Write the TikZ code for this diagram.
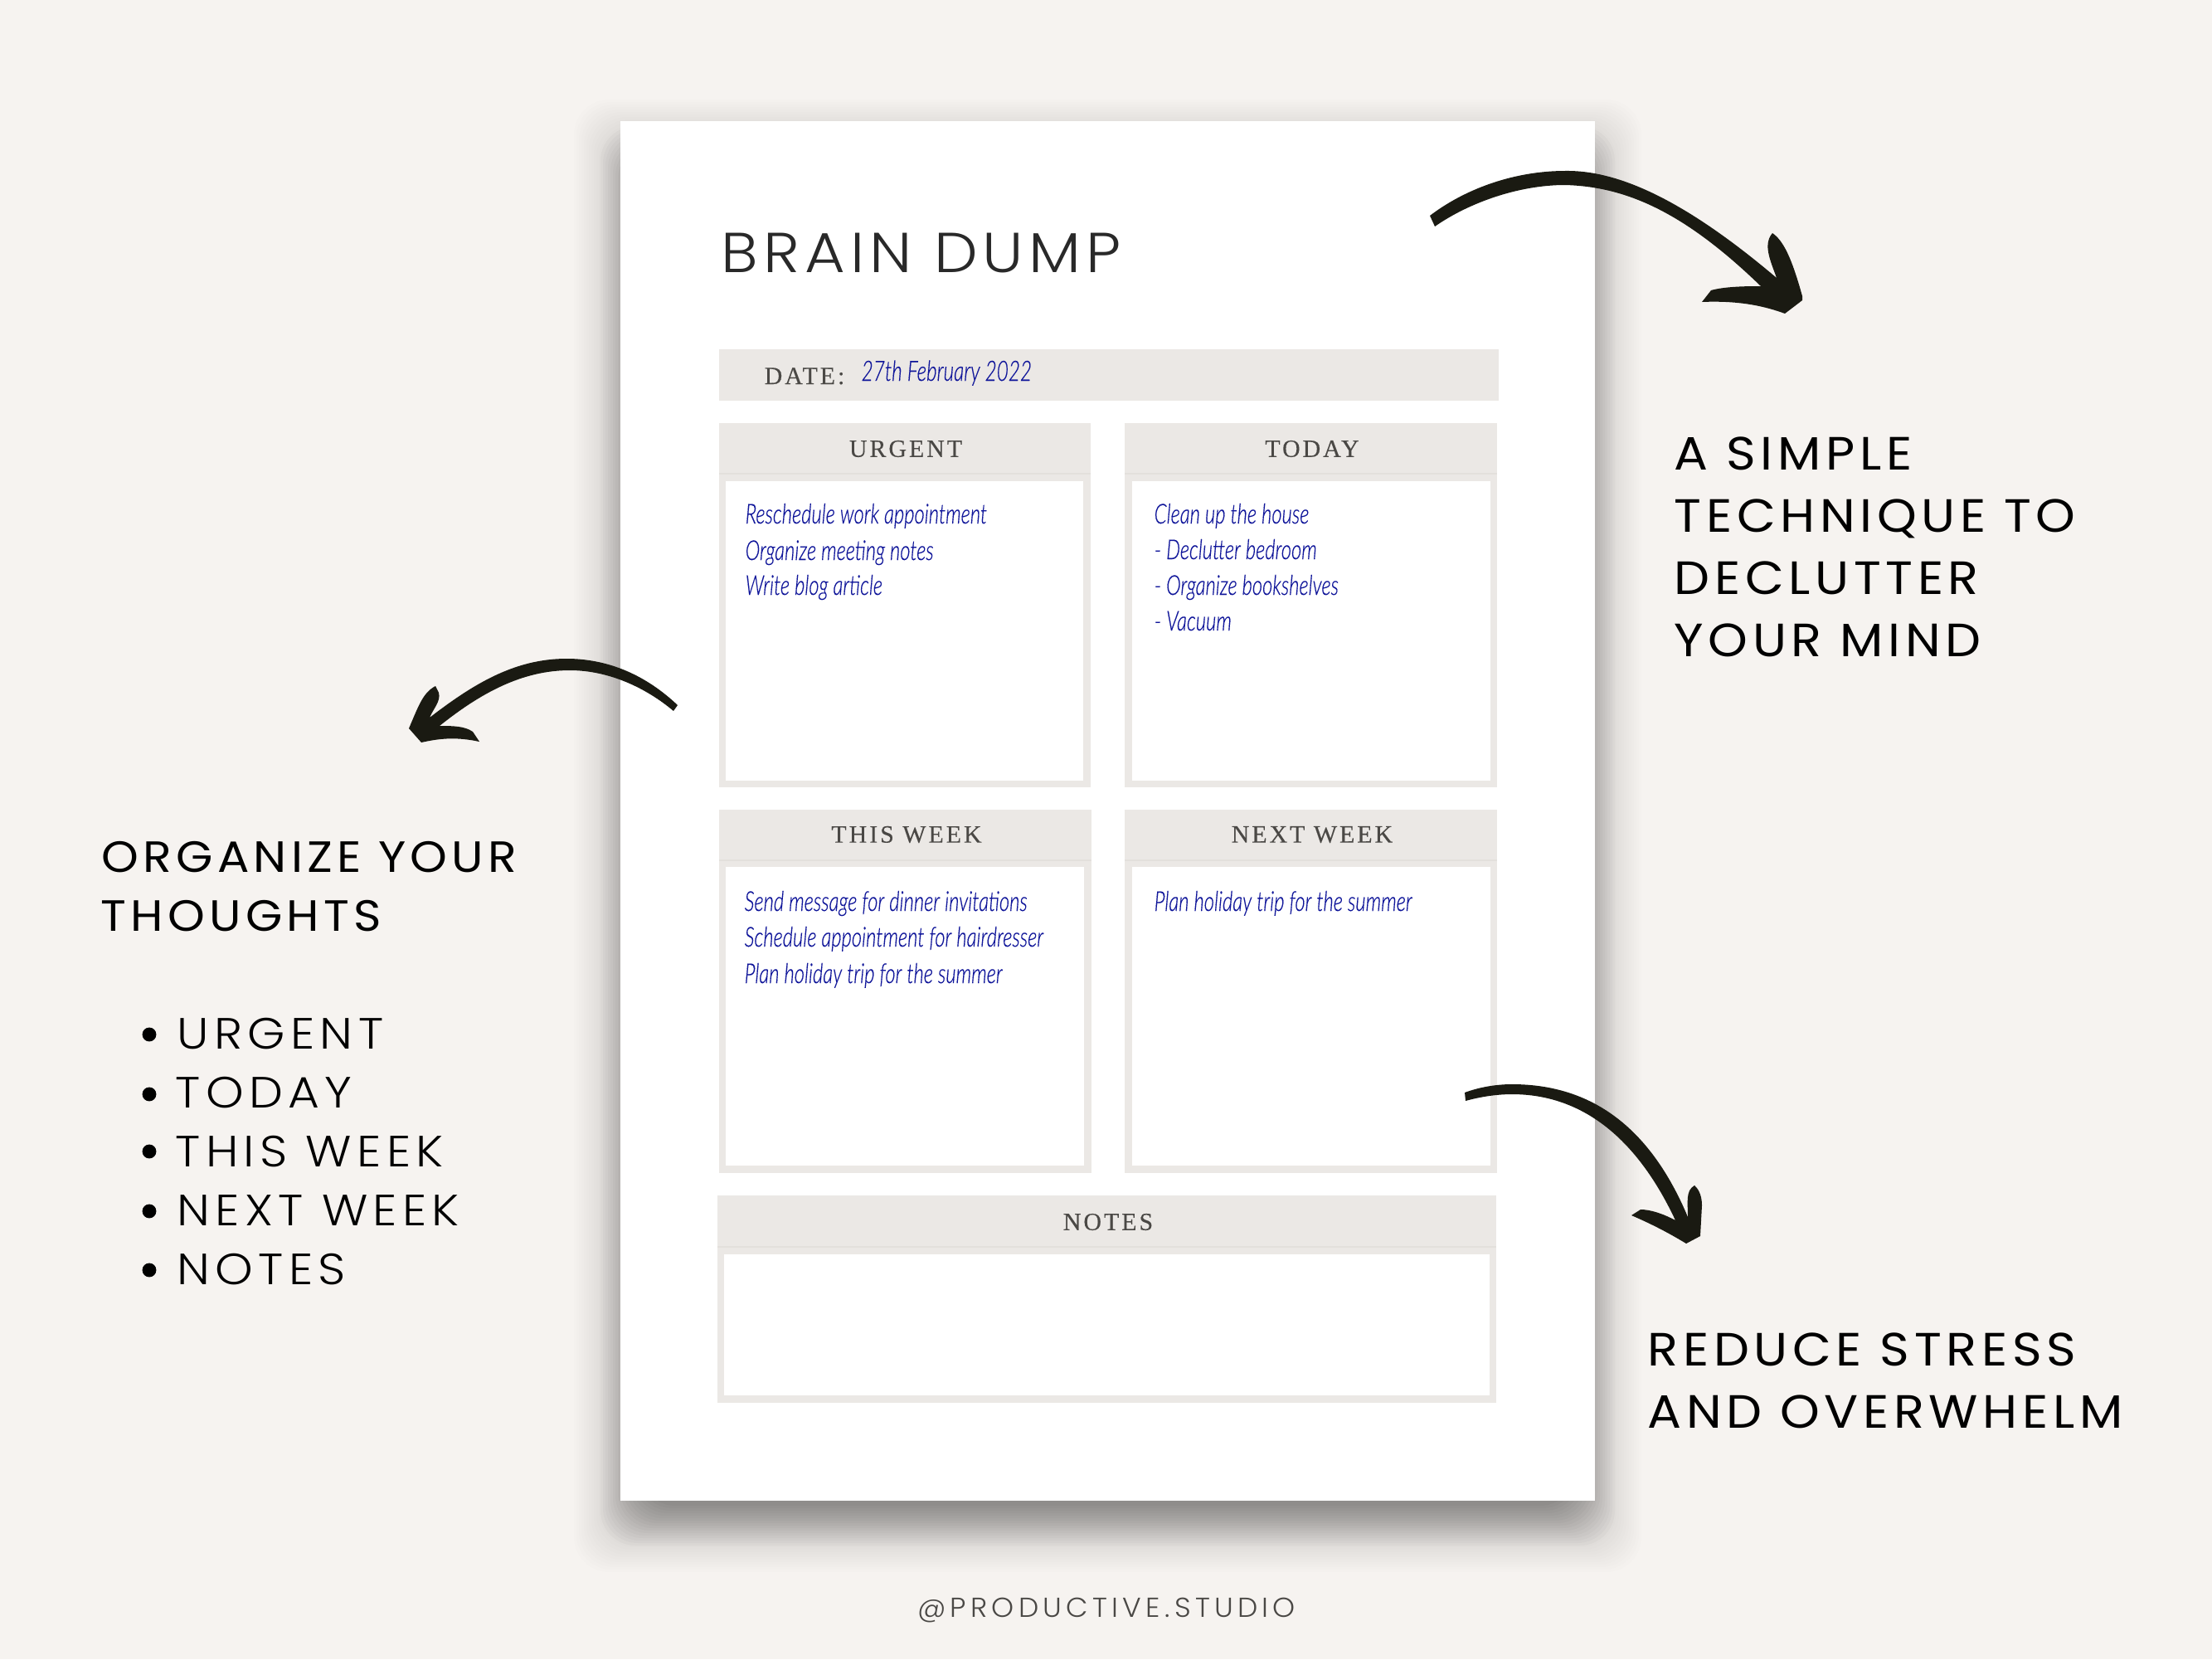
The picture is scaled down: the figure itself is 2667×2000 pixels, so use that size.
\documentclass[tikz,border=0pt]{standalone}
\usepackage{fontspec}
\setmainfont{Liberation Serif}
\newfontfamily\titlefont[FakeStretch=1.1,LetterSpace=9]{Poppins Light}
\newfontfamily\blurbfont[FakeStretch=1.08,LetterSpace=10]{Poppins}
\newfontfamily\itemfont[FakeStretch=1.1,LetterSpace=12]{Poppins Light}
\newfontfamily\footfont[FakeStretch=1.04,LetterSpace=16]{Poppins Light}
\newfontfamily\headfont[LetterSpace=10,FakeBold=0.25]{Liberation Serif}
\newfontfamily\handfont[FakeStretch=0.72,FakeBold=0.3]{Lato Light}
\definecolor{sheetbg}{HTML}{F6F3F0}
\definecolor{panelgray}{HTML}{EBE8E5}
\definecolor{panelline}{HTML}{E3E0DC}
\definecolor{penblue}{HTML}{10169A}
\definecolor{headgray}{HTML}{4A4845}
\definecolor{inkblack}{HTML}{1A1A12}
\tikzset{
  panel/.style={fill=panelgray},
  hline/.style={panelline, line width=0.3pt},
  headtext/.style={inner sep=0pt, text=headgray, font=\headfont\fontsize{8.5}{10}\selectfont},
  handtext/.style={inner sep=0pt, anchor=base west, text=penblue, font=\handfont\itshape\fontsize{9.4}{11}\selectfont},
  blurb/.style={inner sep=0pt, anchor=base west, text=black, font=\blurbfont\fontsize{15}{18}\selectfont},
  bigblurb/.style={blurb, font=\blurbfont\fontsize{16}{18}\selectfont},
  listitem/.style={inner sep=0pt, anchor=base west, text=black, font=\itemfont\fontsize{15}{18}\selectfont},
  bulletdot/.style={circle, fill=black, inner sep=0pt, minimum size=4.8pt},
}
\begin{document}
\begin{tikzpicture}[x=0.01cm, y=-0.01cm]
  \useasboundingbox (0,0) rectangle (2667,2000);
  \fill[sheetbg] (0,0) rectangle (2667,2000);
  % soft shadow, built from stacked rectangles
  \foreach \d in {56,53,...,26}
    \fill[black, opacity=0.008, rounded corners=12pt] (748-\d,176-\d) rectangle (1923+\d,1839+\d);
  \foreach \d in {24,21,...,-24}
    \fill[black, opacity=0.022, rounded corners=12pt] (748-\d,176-\d) rectangle (1923+\d,1839+\d);
  \fill[white] (748,146) rectangle (1923,1809);
  \node[inner sep=0pt, anchor=base west, text=black!84, font=\titlefont\fontsize{19.3}{22}\selectfont] (title) at (869,328) {BRAIN DUMP};

  % date bar
  \fill[panel] (867,421) rectangle (1807,483);
  \node[headtext, anchor=base west] (datelabel) at (921,463) {DATE:};
  \node[handtext, font=\handfont\itshape\fontsize{9.6}{11}\selectfont] (datevalue) at (1038,459) {27th February 2022};

  % urgent
  \fill[panel] (867,510) rectangle (1315,949);
  \fill[white] (875,580) rectangle (1306,941);
  \draw[hline] (867,571) -- (1315,571);
  \node[headtext] (urgent) at (1092,541) {URGENT};
  \node[handtext] (urgent1) at (898,631) {Reschedule work appointment};
  \node[handtext] (urgent2) at (898,675) {Organize meeting notes};
  \node[handtext] (urgent3) at (898,717) {Write blog article};

  % today
  \fill[panel] (1356,510) rectangle (1805,949);
  \fill[white] (1365,580) rectangle (1797,941);
  \draw[hline] (1356,571) -- (1805,571);
  \node[headtext] (today) at (1582,541) {TODAY};
  \node[handtext] (today1) at (1391,631) {Clean up the house};
  \node[handtext] (today2) at (1391,674) {- Declutter bedroom};
  \node[handtext] (today3) at (1391,717) {- Organize bookshelves};
  \node[handtext] (today4) at (1391,760) {- Vacuum};

  % this week
  \fill[panel] (867,976) rectangle (1316,1414);
  \fill[white] (875,1045) rectangle (1307,1405);
  \draw[hline] (867,1037) -- (1316,1037);
  \node[headtext] (thisweek) at (1093,1006) {THIS WEEK};
  \node[handtext] (thisweek1) at (897,1098) {Send message for dinner invitations};
  \node[handtext] (thisweek2) at (897,1141) {Schedule appointment for hairdresser};
  \node[handtext] (thisweek3) at (897,1185) {Plan holiday trip for the summer};

  % next week
  \fill[panel] (1356,976) rectangle (1805,1414);
  \fill[white] (1365,1045) rectangle (1797,1405);
  \draw[hline] (1356,1037) -- (1805,1037);
  \node[headtext] (nextweek) at (1582,1006) {NEXT WEEK};
  \node[handtext] (nextweek1) at (1391,1098) {Plan holiday trip for the summer};

  % notes
  \fill[panel] (865,1441) rectangle (1804,1691);
  \fill[white] (873,1512) rectangle (1796,1682);
  \draw[hline] (865,1503) -- (1804,1503);
  \node[headtext] (notes) at (1336,1473) {NOTES};

  % arrows
  \fill[inkblack] (1724,260) .. controls (1770,225) and (1830,206) .. (1887,206)
    .. controls (1950,205) and (2030,240) .. (2142,335)
    .. controls (2135,315) and (2125,295) .. (2137,281)
    .. controls (2150,290) and (2160,310) .. (2173,357) -- (2173,362) -- (2152,378)
    .. controls (2130,370) and (2100,362) .. (2052,364) -- (2063,350)
    .. controls (2080,345) and (2110,345) .. (2123,345)
    .. controls (2030,255) and (1960,225) .. (1887,223)
    .. controls (1830,223) and (1770,245) .. (1730,273) -- cycle;
  \fill[inkblack] (817,850) .. controls (780,815) and (735,794) .. (683,794)
    .. controls (620,794) and (570,825) .. (518,865)
    .. controls (522,855) and (532,845) .. (529,835) -- (525,827)
    .. controls (510,835) and (505,850) .. (493,878) -- (508,895)
    .. controls (530,890) and (550,888) .. (578,894) -- (570,882)
    .. controls (560,875) and (545,875) .. (530,875)
    .. controls (580,835) and (630,808) .. (687,808)
    .. controls (735,808) and (780,830) .. (812,857) -- cycle;
  \fill[inkblack] (1766,1317) .. controls (1785,1310) and (1805,1307) .. (1823,1307)
    .. controls (1920,1307) and (1990,1360) .. (2035,1467)
    .. controls (2035,1450) and (2032,1435) .. (2043,1429)
    .. controls (2050,1435) and (2052,1445) .. (2052,1453) -- (2050,1490) -- (2033,1499)
    .. controls (2010,1485) and (1990,1475) .. (1967,1465) -- (1978,1458)
    .. controls (1990,1458) and (2005,1463) .. (2020,1471)
    .. controls (1975,1375) and (1910,1319) .. (1823,1319)
    .. controls (1805,1319) and (1785,1322) .. (1767,1327) -- cycle;

  % left column
  \node[blurb] (organize) at (122,1051) {ORGANIZE YOUR};
  \node[blurb] (thoughts) at (121,1122) {THOUGHTS};
  \node[bulletdot] (dot1) at (180,1247) {};
  \node[bulletdot] (dot2) at (180,1319) {};
  \node[bulletdot] (dot3) at (180,1388) {};
  \node[bulletdot] (dot4) at (180,1460) {};
  \node[bulletdot] (dot5) at (180,1531) {};
  \node[listitem] (item1) at (213,1264) {URGENT};
  \node[listitem] (item2) at (211,1335) {TODAY};
  \node[listitem] (item3) at (211,1406) {THIS WEEK};
  \node[listitem] (item4) at (213,1477) {NEXT WEEK};
  \node[listitem] (item5) at (213,1548) {NOTES};

  % right column
  \node[bigblurb] (simple) at (2018,566) {A SIMPLE};
  \node[bigblurb] (technique) at (2018,641) {TECHNIQUE TO};
  \node[bigblurb] (declutter) at (2018,716) {DECLUTTER};
  \node[bigblurb] (yourmind) at (2018,791) {YOUR MIND};
  \node[bigblurb] (reduce) at (1986,1646) {REDUCE STRESS};
  \node[bigblurb] (overwhelm) at (1986,1721) {AND OVERWHELM};

  \node[inner sep=0pt, text=headgray, font=\footfont\fontsize{9.4}{11}\selectfont] (handle) at (1334,1941) {@PRODUCTIVE.STUDIO};
\end{tikzpicture}
\end{document}
